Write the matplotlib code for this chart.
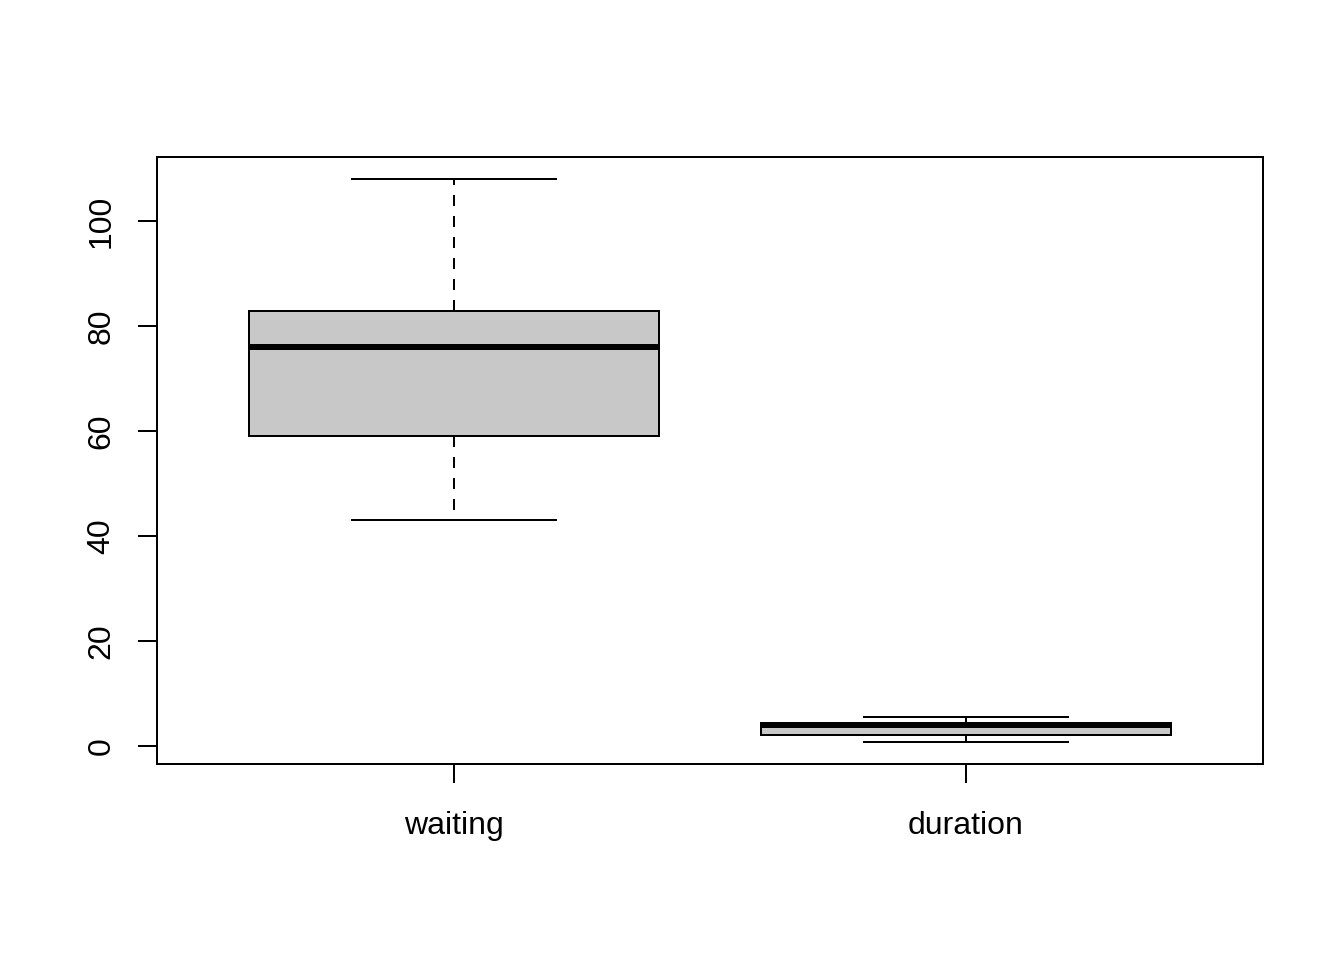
"""Boxplot of geyser waiting time and eruption duration, R base-graphics look."""
import matplotlib
matplotlib.use("Agg")
import matplotlib.pyplot as plt

plt.rcParams["font.family"] = ["Liberation Sans", "DejaVu Sans"]

labels = ["waiting", "duration"]
whislo = [43.0, 0.833]
q1 = [59.0, 2.0]
med = [76.0, 4.0]
q3 = [83.0, 4.383]
whishi = [108.0, 5.45]

stats = [
    {"label": labels[i], "whislo": whislo[i], "q1": q1[i], "med": med[i],
     "q3": q3[i], "whishi": whishi[i], "fliers": []}
    for i in range(len(labels))
]

fig = plt.figure(figsize=(7, 5), dpi=192)
ax = fig.add_axes([157 / 1344, 1 - 764 / 960, (1263 - 157) / 1344, (764 - 157) / 960])

lw = 0.75
ax.bxp(
    stats,
    positions=[1, 2],
    widths=0.8,
    patch_artist=True,
    showfliers=False,
    boxprops=dict(facecolor="#C8C8C8", edgecolor="black", linewidth=lw),
    medianprops=dict(color="black", linewidth=2.25, solid_capstyle="butt"),
    whiskerprops=dict(color="black", linewidth=lw, linestyle=(0, (5.5, 5))),
    capprops=dict(color="black", linewidth=lw),
    capwidths=0.4,
)

lo = min(whislo)
hi = max(whishi)
ext = 0.04 * (hi - lo)
ax.set_ylim(lo - ext, hi + ext)
ax.set_xlim(0.42, 2.58)

ax.set_yticks([0, 20, 40, 60, 80, 100])
ax.set_xticks([1, 2])
ax.set_xticklabels(labels)
for lab in ax.get_yticklabels():
    lab.set_rotation(90)
    lab.set_va("center")

ax.tick_params(axis="both", length=7.2, width=lw, labelsize=12, direction="out")
ax.tick_params(axis="x", pad=10.5)
ax.tick_params(axis="y", pad=8)
for s in ax.spines.values():
    s.set_linewidth(lw)

fig.savefig("out.png", dpi=192)
